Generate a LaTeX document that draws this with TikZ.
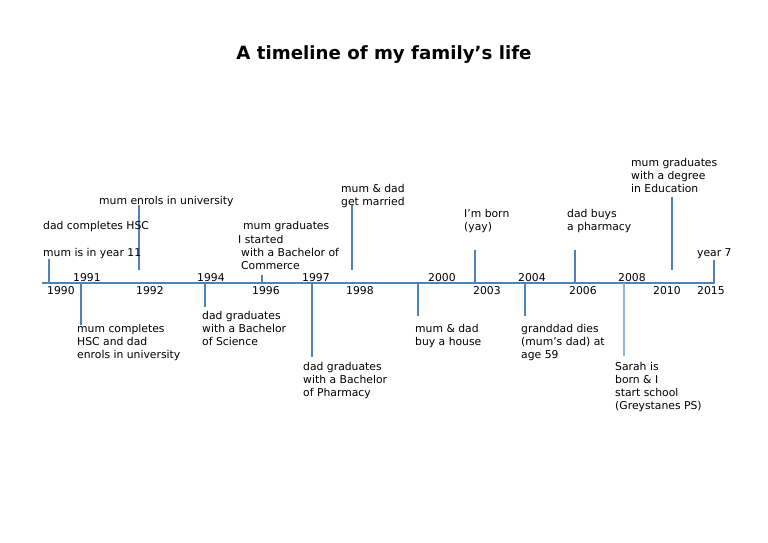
\documentclass[tikz,border=0pt]{standalone}
\usepackage{fontspec}
\setmainfont{DejaVu Sans}
\definecolor{axisblue}{RGB}{79,129,189}
\definecolor{lightblue}{RGB}{149,179,215}
\begin{document}
\begin{tikzpicture}[x=1pt,y=-1pt,
  axisline/.style={draw=axisblue,line width=2pt},
  tickline/.style={draw=axisblue,line width=2pt},
  thintick/.style={draw=lightblue,line width=1.2pt},
  lbl/.style={anchor=base west,inner sep=0pt,font=\fontsize{10.8}{13}\selectfont,align=left},
  yr/.style={anchor=base west,inner sep=0pt,font=\fontsize{10.8}{13}\selectfont}]
\useasboundingbox[fill=white] (0,0) rectangle (768,543);
\node[anchor=center,font=\fontsize{18.2}{22}\bfseries\selectfont] (title) at (384,55) {A timeline of my family’s life};
% axis
\coordinate (axL) at (42,283);
\coordinate (axR) at (715,283);
\draw[axisline] (axL) -- (axR);
% up ticks
\coordinate (t90a) at (49,283); \coordinate (t90b) at (49,259);
\coordinate (t92a) at (139,270); \coordinate (t92b) at (139,205);
\coordinate (t96a) at (262,283); \coordinate (t96b) at (262,275);
\coordinate (t98a) at (352,270); \coordinate (t98b) at (352,205);
\coordinate (t03a) at (475,283); \coordinate (t03b) at (475,250);
\coordinate (t06a) at (575,283); \coordinate (t06b) at (575,250);
\coordinate (t10a) at (672,270); \coordinate (t10b) at (672,197);
\coordinate (t15a) at (714,283); \coordinate (t15b) at (714,260);
% down ticks
\coordinate (t91a) at (81,283); \coordinate (t91b) at (81,325);
\coordinate (t94a) at (205,283); \coordinate (t94b) at (205,307);
\coordinate (t97a) at (312,283); \coordinate (t97b) at (312,357);
\coordinate (t00a) at (418,283); \coordinate (t00b) at (418,316);
\coordinate (t04a) at (525,283); \coordinate (t04b) at (525,316);
\coordinate (t08a) at (624,283); \coordinate (t08b) at (624,356);
\foreach \t in {90,92,96,98,03,06,10,15,91,94,97,00,04}{\draw[tickline] (t\t a) -- (t\t b);}
\draw[thintick] (t08a) -- (t08b);
% year labels
\node[yr] (y1990) at (47,294) {1990};
\node[yr] (y1991) at (73,281) {1991};
\node[yr] (y1992) at (136,294) {1992};
\node[yr] (y1994) at (197,281) {1994};
\node[yr] (y1996) at (252,294) {1996};
\node[yr] (y1997) at (302,281) {1997};
\node[yr] (y1998) at (346,294) {1998};
\node[yr] (y2000) at (428,281) {2000};
\node[yr] (y2003) at (473,294) {2003};
\node[yr] (y2004) at (518,281) {2004};
\node[yr] (y2006) at (569,294) {2006};
\node[yr] (y2008) at (618,281) {2008};
\node[yr] (y2010) at (653,294) {2010};
\node[yr] (y2015) at (697,294) {2015};
% event labels above (base = baseline of last line)
\node[lbl] (e1) at (43,256) {mum is in year 11};
\node[lbl] (e2) at (43,229) {dad completes HSC};
\node[lbl] (e3) at (99,204) {mum enrols in university};
\node[lbl] (e4) at (243,229) {mum graduates};
\node[lbl] (e5) at (238,243) {I started};
\node[lbl] (e6) at (241,269) {with a Bachelor of\\Commerce};
\node[lbl] (e7) at (341,205) {mum \& dad\\get married};
\node[lbl] (e8) at (464,230) {I'm born\\(yay)};
\node[lbl] (e9) at (567,230) {dad buys\\a pharmacy};
\node[lbl] (e10) at (631,192) {mum graduates\\with a degree\\in Education};
\node[lbl] (e11) at (697,256) {year 7};
% event labels below
\node[lbl] (f1) at (77,358) {mum completes\\HSC and dad\\enrols in university};
\node[lbl] (f2) at (202,345) {dad graduates\\with a Bachelor\\of Science};
\node[lbl] (f3) at (303,396) {dad graduates\\with a Bachelor\\of Pharmacy};
\node[lbl] (f4) at (415,345) {mum \& dad\\buy a house};
\node[lbl] (f5) at (521,358) {granddad dies\\(mum's dad) at\\age 59};
\node[lbl] (f6) at (615,409) {Sarah is\\born \& I\\start school\\(Greystanes PS)};
\end{tikzpicture}
\end{document}
